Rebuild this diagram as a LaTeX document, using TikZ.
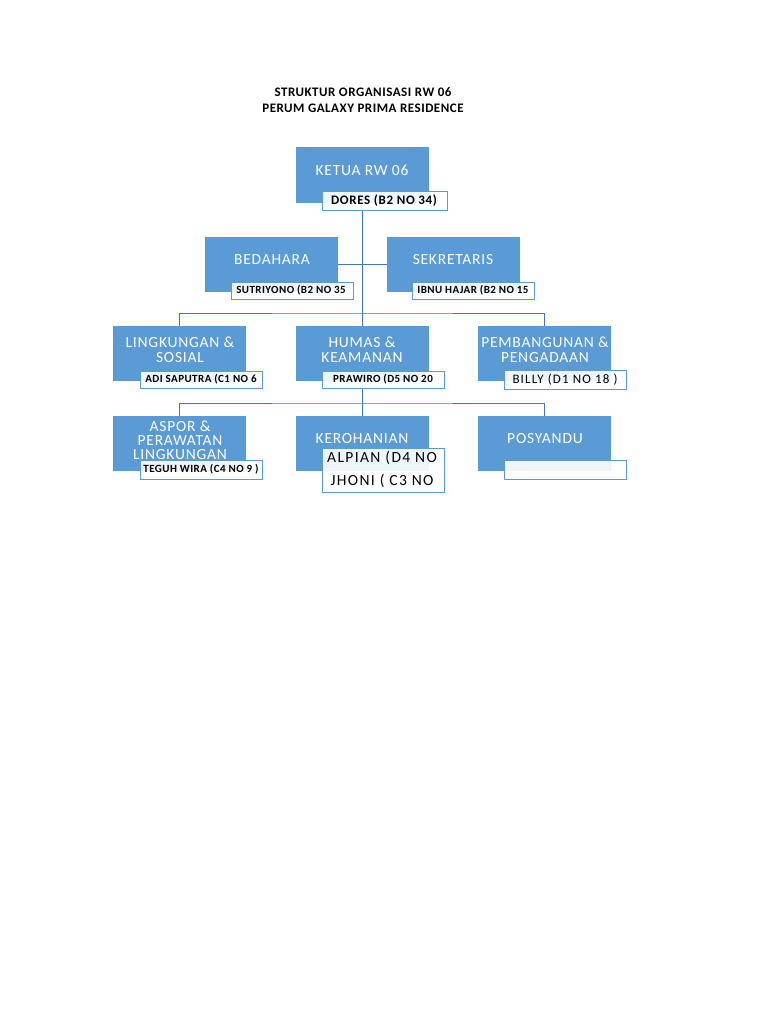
\documentclass[tikz,border=0pt]{standalone}
\usepackage{fontspec}
\setmainfont{Carlito}
\newfontfamily\titlefont[LetterSpace=4]{Carlito}
\newfontfamily\spacedfont[LetterSpace=5]{Carlito}
\newfontfamily\namefont[LetterSpace=4]{Carlito}
\newfontfamily\widenamefont[LetterSpace=9]{Carlito}
\definecolor{boxblue}{RGB}{91,155,213}
\definecolor{lineblue}{RGB}{68,114,196}
\begin{document}
\begin{tikzpicture}[x=1pt,y=-1pt,
  unitbox/.style={rectangle, fill=boxblue, minimum width=133pt, minimum height=55pt, inner sep=0pt, anchor=north west},
  boxtext/.style={text=white, font=\spacedfont\fontsize{15.5}{15}\selectfont, align=center, inner sep=0pt},
  namebox/.style={rectangle, draw=boxblue, line width=0.9pt, fill=white, fill opacity=0.9, minimum width=122pt, minimum height=17pt, inner sep=0pt, anchor=north west},
  nametext/.style={text=black, font=\namefont\bfseries\fontsize{11}{12}\selectfont, inner sep=0pt},
  bigname/.style={text=black, font=\widenamefont\fontsize{13}{14}\selectfont, inner sep=0pt},
  link/.style={draw=lineblue, line width=0.9pt}]
\useasboundingbox[fill=white] (0,0) rectangle (768,1024);

\node[font=\titlefont\bfseries\fontsize{13}{16}\selectfont, align=center, inner sep=0pt] (title) at (363,100) {STRUKTUR ORGANISASI RW 06\\PERUM GALAXY PRIMA RESIDENCE};

% boxes
\node[unitbox, minimum height=56pt] (ketua) at (296,147) {};
\node[unitbox] (bedahara) at (205,237) {};
\node[unitbox] (sekretaris) at (387,237) {};
\node[unitbox] (ling) at (113,326) {};
\node[unitbox] (humas) at (296,326) {};
\node[unitbox] (pemb) at (478,326) {};
\node[unitbox] (aspor) at (113,416) {};
\node[unitbox] (kero) at (296,416) {};
\node[unitbox] (posy) at (478,416) {};

% connectors
\coordinate (bus1) at (362.5,313);
\coordinate (bus2) at (362.5,403);
\draw[link] (bedahara.east) -- (sekretaris.west);
\draw[link] (ling.north) |- (bus1) -| (pemb.north);
\draw[link] (aspor.north) |- (bus2) -| (posy.north);

% box texts
\node[boxtext] (ketua-t) at (362,170) {KETUA RW 06};
\node[boxtext] (bedahara-t) at (272,260) {BEDAHARA};
\node[boxtext] (sekretaris-t) at (453,260) {SEKRETARIS};
\node[boxtext] (ling-t) at (180,349.5) {LINGKUNGAN \&\\SOSIAL};
\node[boxtext] (humas-t) at (362,349.5) {HUMAS \&\\KEAMANAN};
\node[boxtext] (pemb-t) at (545,349.5) {PEMBANGUNAN \&\\PENGADAAN};
\node[boxtext, font=\spacedfont\fontsize{15.5}{14}\selectfont] (aspor-t) at (180,440) {ASPOR \&\\PERAWATAN\\LINGKUNGAN};
\node[boxtext] (kero-t) at (362,439) {KEROHANIAN};
\node[boxtext] (posy-t) at (545,439) {POSYANDU};

% name boxes
\node[namebox, minimum width=125pt, minimum height=19pt] (dores) at (322,191) {};
\node[namebox] (sutri) at (231,282) {};
\node[namebox] (ibnu) at (412,282) {};
\node[namebox] (adi) at (140,371) {};
\node[namebox] (prawiro) at (322,371) {};
\node[namebox, minimum height=19pt] (billy) at (504,370) {};
\node[namebox, minimum height=19pt] (teguh) at (140,460) {};
\node[namebox, minimum height=44pt] (alpian) at (322,448) {};
\node[namebox, minimum height=19pt] (posyname) at (504,460) {};

\draw[link] (ketua.south |- dores.south) -- (humas.north);
\draw[link] (humas.south |- prawiro.south) -- (kero.north);

% name texts
\node[nametext, font=\spacedfont\bfseries\fontsize{13}{14}\selectfont] (dores-t) at (384,200.5) {DORES (B2 NO 34)};
\node[nametext] (sutri-t) at (291,290.5) {SUTRIYONO (B2 NO 35};
\node[nametext] (ibnu-t) at (473,290.5) {IBNU HAJAR (B2 NO 15};
\node[nametext] (adi-t) at (201,379.5) {ADI SAPUTRA (C1 NO 6};
\node[nametext] (prawiro-t) at (383,379.5) {PRAWIRO (D5 NO 20};
\node[bigname] (billy-t) at (565,379.5) {BILLY (D1 NO 18 )};
\node[nametext] (teguh-t) at (201,469.5) {TEGUH WIRA (C4 NO 9 )};
\node[bigname, font=\widenamefont\fontsize{15.5}{16}\selectfont] (alpian-t) at (382,458) {ALPIAN (D4 NO};
\node[bigname, font=\widenamefont\fontsize{15.5}{16}\selectfont] (jhoni-t) at (382,480.5) {JHONI ( C3 NO};
\end{tikzpicture}
\end{document}
